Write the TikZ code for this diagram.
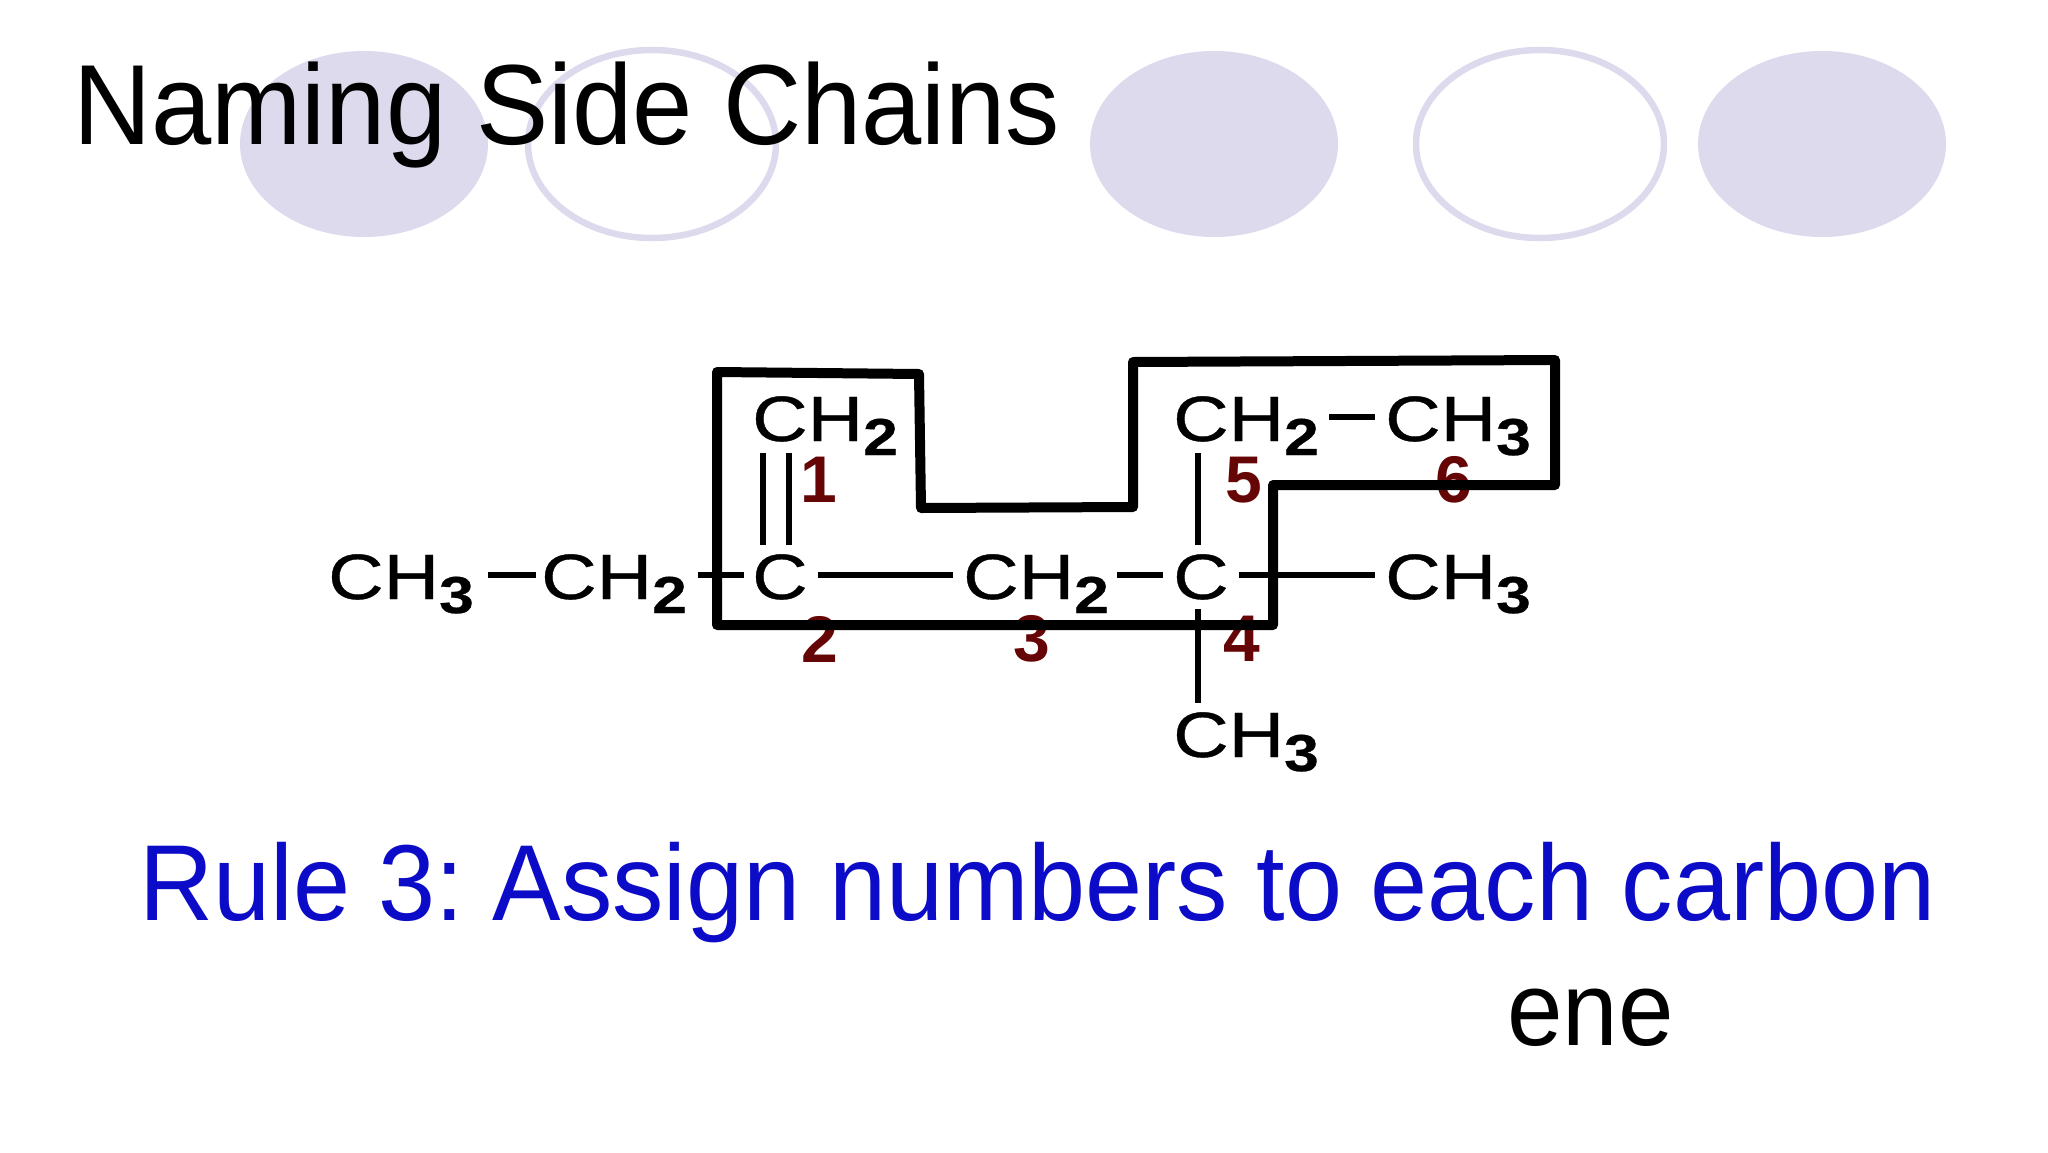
\documentclass[tikz,border=0pt]{standalone}
\usepackage{fontspec}
\setmainfont{Liberation Sans}
\newfontfamily\chemfont[FakeStretch=1.2,FakeBold=0.6]{Liberation Sans}
\newfontfamily\titlefont[FakeStretch=0.95]{Liberation Sans}
\definecolor{blobcol}{HTML}{DCDAEC}
\definecolor{rulecol}{HTML}{0C0CC8}
\definecolor{numcol}{HTML}{660505}
\newcommand{\chemsub}[1]{\raisebox{-14pt}{\fontsize{52}{52}\selectfont\bfseries #1}}

\begin{document}
\begin{tikzpicture}[
    x=1pt,y=-1pt,
    blob/.style={fill=blobcol},
    ring/.style={draw=blobcol,line width=6.5pt},
    atom/.style={anchor=base west,inner sep=0pt,font=\chemfont\fontsize{64}{64}\selectfont},
    num/.style={inner sep=0pt,text=numcol,font=\bfseries\fontsize{66}{66}\selectfont},
    bond/.style={line width=6pt},
    chain/.style={line width=10pt,line join=round},
    heading/.style={anchor=base west,inner sep=0pt,font=\titlefont\frenchspacing}
]
\useasboundingbox (0,0) rectangle (2048,1152);

% Ellipses behind the title
\fill[blob] (364,144) ellipse (124 and 93);
\draw[ring] (652,144) ellipse (124 and 94);
\fill[blob] (1214,144) ellipse (124 and 93);
\draw[ring] (1540,144) ellipse (124 and 94);
\fill[blob] (1822,144) ellipse (124 and 93);

% Title
\node[heading,font=\titlefont\fontsize{114}{114}\selectfont] (title) at (73,144) {Naming Side Chains};

% Main row
\node[atom] (Ca) at (328,599) {CH\chemsub{3}};
\node[atom] (Cb) at (541,599) {CH\chemsub{2}};
\node[atom] (Cc) at (752,599) {C};
\node[atom] (Cd) at (963,599) {CH\chemsub{2}};
\node[atom] (Ce) at (1173,599) {C};
\node[atom] (Cf) at (1385,599) {CH\chemsub{3}};

% Upper and lower row
\node[atom] (Tc) at (752,441) {CH\chemsub{2}};
\node[atom] (Te) at (1173,441) {CH\chemsub{2}};
\node[atom] (Tf) at (1385,441) {CH\chemsub{3}};
\node[atom] (Be) at (1173,757) {CH\chemsub{3}};

% Bonds
\draw[bond] ([shift={(-5,-24)}]Cb.base west) ++(-48,0) -- ([shift={(-5,-24)}]Cb.base west);
\draw[bond] ([shift={(-8,-24)}]Cc.base west) ++(-46,0) -- ([shift={(-8,-24)}]Cc.base west);
\draw[bond] ([shift={(10,-24)}]Cc.base east) -- ([shift={(-10,-24)}]Cd.base west);
\draw[bond] ([shift={(-10,-24)}]Ce.base west) ++(-46,0) -- ([shift={(-10,-24)}]Ce.base west);
\draw[bond] ([shift={(10,-24)}]Ce.base east) -- ([shift={(-10,-24)}]Cf.base west);
\draw[bond] ([shift={(-10,-24)}]Tf.base west) ++(-46,0) -- ([shift={(-10,-24)}]Tf.base west);
\draw[bond] ([shift={(11,12)}]Tc.base west) -- ([shift={(11,-54)}]Cc.base west);
\draw[bond] ([shift={(37,12)}]Tc.base west) -- ([shift={(37,-54)}]Cc.base west);
\draw[bond] ([shift={(25,12)}]Te.base west) -- ([shift={(25,-54)}]Ce.base west);
\draw[bond] ([shift={(25,10)}]Ce.base west) -- ([shift={(25,-54)}]Be.base west);

% Carbon numbers
\node[num] (n1) at (819,480) {1};
\node[num] (n2) at (820,639) {2};
\node[num] (n3) at (1032,639) {3};
\node[num] (n4) at (1242,639) {4};
\node[num] (n5) at (1244,480) {5};
\node[num] (n6) at (1454,480) {6};

% Longest chain
\draw[chain] (717,372) -- (919,374) -- (921,508) -- (1133,507) -- (1133,362)
    -- (1555,360) -- (1555,485) -- (1273,485) -- (1273,625) -- (717,625) -- cycle;

% Rule text
\node[heading,text=rulecol,font=\titlefont\frenchspacing\fontsize{108}{108}\selectfont] (rule) at (139,920) {Rule 3: Assign numbers to each carbon};
\node[heading,font=\titlefont\fontsize{105}{105}\selectfont] (suffix) at (1507,1045) {ene};

\end{tikzpicture}
\end{document}
